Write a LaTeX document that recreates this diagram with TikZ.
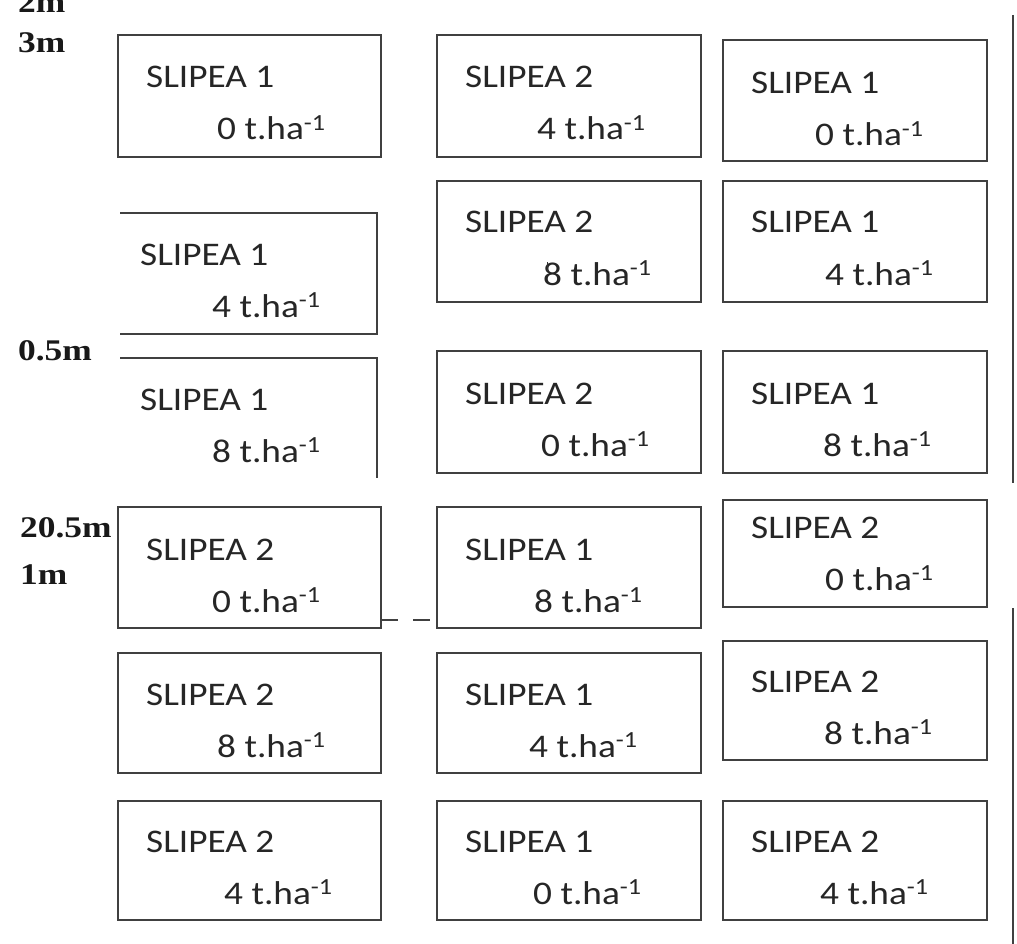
\documentclass[tikz,border=0pt]{standalone}
\usepackage{fontspec}
\usepackage{graphicx}
\newfontfamily\plotfont[FakeStretch=1.13]{Carlito}
\newfontfamily\dimfont[FakeStretch=1.18]{Liberation Serif}
\usetikzlibrary{calc}
% name, x, y, width, height, plot no., rate, label baseline dy, value dx
\newcommand\plotcell[9]{%
  \node[plotbox, minimum width=#4pt, minimum height=#5pt] (#1) at (#2,#3) {};
  \node[plotlab] (#1a) at ($(#1.north west)+(28,#8)$) {SLIPEA #6};
  \node[plotlab] (#1b) at ($(#1.north west)+(#9,#8+52)$) {#7 t.ha\textsuperscript{-1}};
}
\begin{document}
\begin{tikzpicture}[x=1pt,y=-1pt,
  plotline/.style={draw=black!75, line width=1.8pt},
  plotbox/.style={plotline, rectangle, inner sep=0pt, outer sep=0pt, anchor=north west},
  plotlab/.style={anchor=base west, inner sep=0pt, font=\plotfont\fontsize{33}{36}\selectfont, text=black!85},
  dimlab/.style={anchor=base west, inner sep=0pt, font=\dimfont\bfseries\fontsize{30}{32}\selectfont, text=black!90}]
\useasboundingbox[fill=white] (0,0) rectangle (1017,944);

% column 1
\plotcell{c1r1}{118}{35}{263}{122}{1}{0}{53}{99}
\plotcell{c1r4}{118}{507}{263}{121}{2}{0}{53}{94}
\plotcell{c1r5}{118}{653}{263}{120}{2}{8}{52}{99}
\plotcell{c1r6}{118}{801}{263}{119}{2}{4}{51}{106}
% column 2
\plotcell{c2r1}{437}{35}{264}{122}{2}{4}{53}{100}
\plotcell{c2r2}{437}{181}{264}{121}{2}{8}{52}{106}
\plotcell{c2r3}{437}{351}{264}{122}{2}{0}{53}{104}
\plotcell{c2r4}{437}{507}{264}{121}{1}{8}{53}{97}
\plotcell{c2r5}{437}{653}{264}{120}{1}{4}{52}{92}
\plotcell{c2r6}{437}{801}{264}{119}{1}{0}{51}{96}
% column 3
\plotcell{c3r1}{723}{40}{264}{121}{1}{0}{54}{92}
\plotcell{c3r2}{723}{181}{264}{121}{1}{4}{52}{102}
\plotcell{c3r3}{723}{351}{264}{122}{1}{8}{53}{100}
\plotcell{c3r4}{723}{500}{264}{107}{2}{0}{38}{102}
\plotcell{c3r5}{723}{641}{264}{119}{2}{8}{51}{101}
\plotcell{c3r6}{723}{801}{264}{119}{2}{4}{51}{97}

% open plots in column 1
\coordinate (c1r2tl) at (120,213);
\coordinate (c1r2br) at (377,334);
\draw[plotline] (c1r2tl) -| (c1r2br) -- (c1r2br -| c1r2tl);
\node[plotlab] (c1r2a) at ($(c1r2tl)+(20,52)$) {SLIPEA 1};
\node[plotlab] (c1r2b) at ($(c1r2tl)+(92,104)$) {4 t.ha\textsuperscript{-1}};

\coordinate (c1r3tl) at (120,358);
\coordinate (c1r3br) at (377,478);
\draw[plotline] (c1r3tl) -| (c1r3br);
\node[plotlab] (c1r3a) at ($(c1r3tl)+(20,52)$) {SLIPEA 1};
\node[plotlab] (c1r3b) at ($(c1r3tl)+(92,104)$) {8 t.ha\textsuperscript{-1}};

% dashed link
\draw[plotline, dash pattern=on 17pt off 15pt] ($(c1r4.south east)+(0,-8)$) -- ($(c2r4.south west)+(0,-8)$);

% small tick on the 8 in c2r2
\coordinate (tickA) at (547,262);
\coordinate (tickB) at (547,271);
\draw[black!80, line width=1pt] (tickA) -- (tickB);

% right edge lines
\coordinate (r1a) at (1013,15);
\coordinate (r1b) at (1013,483);
\coordinate (r2a) at (1013,608);
\coordinate (r2b) at (1013,944);
\draw[plotline] (r1a) -- (r1b);
\draw[plotline] (r2a) -- (r2b);

% dimension labels
\node[dimlab] (d2m) at (18,13) {2m};
\node[dimlab] (d3m) at (18,53) {3m};
\node[dimlab] (d05m) at (18,360) {0.5m};
\node[dimlab] (d205m) at (20,537) {20.5m};
\node[dimlab] (d1m) at (20,584) {1m};
\end{tikzpicture}
\end{document}
